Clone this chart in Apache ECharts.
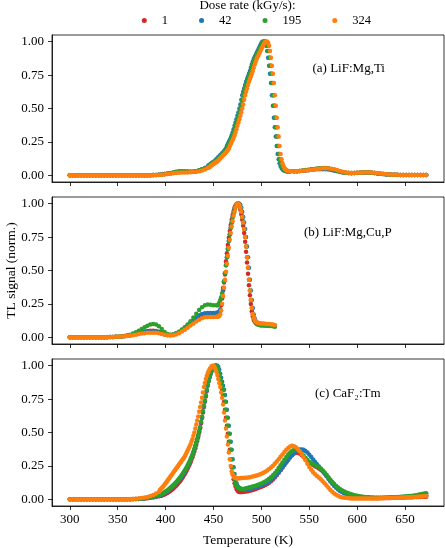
<!DOCTYPE html>
<html><head><meta charset="utf-8">
<script src="https://cdn.jsdelivr.net/npm/echarts@6.0.0/dist/echarts.min.js"></script>
<style>html,body{margin:0;padding:0;background:#fff}#c{width:445px;height:548px}</style>
</head><body><div id="c"></div>
<script>
const doseLabels = ['1','42','195','324'];
const colors = ['#d62728','#1f77b4','#2ca02c','#ff7f0e'];
const xTicks = [300,350,400,450,500,550,600,650];
const yTicks = [0,0.25,0.5,0.75,1];
const panelLabels = ['(a) LiF:Mg,Ti','(b) LiF:Mg,Cu,P','(c) CaF\u2082:Tm'];
const yTitle = 'TL signal (norm.)';
const xTitle = 'Temperature (K)';
const legendTitle = 'Dose rate (kGy/s):';

// ---------- Panel (a) LiF:Mg,Ti ----------
const Ta = [300,303,306,309,312,315,318,321,324,327,330,333,336,339,342,345,348,351,354,357,360,363,366,369,372,375,378,381,384,387,390,393,396,399,402,405,408,411,414,417,420,423,426,429,432,435,438,441,444,
445,446,447,448,449,450,451,452,453,454,455,456,457,458,459,460,461,462,463,464,465,466,467,468,469,470,471,472,473,474,475,476,477,478,479,480,481,482,483,484,485,486,487,488,489,490,491,492,493,494,495,496,497,498,499,500,501,502,503,504,505,506,507,508,509,510,511,512,513,514,515,516,517,518,519,520,521,522,523,524,525,526,527,528,529,530,
534,537,540,543,546,549,552,555,558,561,564,567,570,573,576,579,582,585,588,591,594,597,600,603,606,609,612,615,618,621,624,627,630,633,636,639,642,645,648,651,654,657,660,663,666,669,672];
const aRed = [0,0,0,0,0,0,0,0,0,0,0,0,0,0,0,0,0,0,0,0,0,0,0,0,0,0,0,0,
0.001,0.002,0.003,0.005,0.007,0.009,0.012,0.016,0.02,0.024,0.027,0.028,0.027,0.026,0.026,0.027,0.03,0.036,0.044,0.05,0.06,
0.063,0.068,0.075,0.08,0.085,0.09,0.095,0.1,0.105,0.11,
0.12,0.125,0.135,0.14,0.15,0.155,0.165,0.17,0.18,0.19,
0.2,0.22,0.235,0.25,0.265,0.28,0.3,0.32,0.345,0.37,
0.395,0.42,0.445,0.47,0.5,0.53,0.565,0.6,0.625,0.65,
0.675,0.7,0.72,0.74,0.76,0.78,0.805,0.83,0.85,0.87,
0.885,0.9,0.915,0.93,0.945,0.96,0.975,0.99,1,1,
1,0.99,0.97,0.93,0.88,0.82,0.76,0.69,0.6,0.52,
0.43,0.36,0.29,0.22,0.16,0.12,0.09,0.07,0.055,0.045,
0.04,0.035,0.032,0.03,0.03,0.03,
0.03,0.031,0.033,0.035,0.037,0.04,0.043,0.046,0.049,0.051,0.052,0.052,0.05,0.046,0.04,0.034,0.028,0.023,0.02,0.018,
0.017,0.018,0.019,0.02,0.021,0.021,0.021,0.02,0.018,0.015,0.012,0.01,0.008,0.006,0.005,0.004,0.004,0.003,0.003,0.003,
0.003,0.003,0.003,0.003,0.003,0.003,0.003];
const aBlue = [0,0,0,0,0,0,0,0,0,0,0,0,0,0,0,0,0,0,0,0,0,0,0,0,0,0,0,0,
0.001,0.002,0.003,0.005,0.007,0.009,0.012,0.015,0.019,0.023,0.026,0.027,0.027,0.026,0.026,0.027,0.03,0.036,0.044,0.054,0.068,
0.075,0.08,0.085,0.09,0.095,0.1,0.105,0.11,0.12,0.125,
0.135,0.14,0.15,0.155,0.165,0.17,0.18,0.19,0.2,0.22,
0.235,0.25,0.265,0.28,0.3,0.32,0.345,0.37,0.395,0.42,
0.445,0.47,0.5,0.53,0.565,0.6,0.625,0.65,0.675,0.7,
0.72,0.74,0.76,0.78,0.805,0.83,0.85,0.87,0.885,0.9,
0.915,0.93,0.945,0.96,0.975,0.99,1,1,1,0.99,
0.97,0.93,0.88,0.82,0.76,0.69,0.6,0.52,0.43,0.36,
0.29,0.22,0.16,0.12,0.09,0.07,0.055,0.045,0.04,0.035,
0.032,0.03,0.03,0.03,0.03,0.03,
0.03,0.031,0.032,0.034,0.036,0.038,0.041,0.043,0.045,0.046,0.046,0.045,0.043,0.04,0.035,0.03,0.025,0.021,0.018,0.017,
0.016,0.017,0.018,0.019,0.02,0.02,0.02,0.019,0.017,0.014,0.011,0.009,0.007,0.006,0.005,0.004,0.003,0.003,0.003,0.003,
0.003,0.003,0.003,0.003,0.003,0.003,0.003];
const aGreen = [0,0,0,0,0,0,0,0,0,0,0,0,0,0,0,0,0,0,0,0,0,0,0,0,0,0,0,0,
0.001,0.002,0.003,0.005,0.007,0.01,0.013,0.017,0.022,0.027,0.03,0.031,0.03,0.028,0.027,0.028,0.031,0.037,0.045,0.05,0.063,
0.068,0.075,0.08,0.085,0.09,0.095,0.1,0.105,0.11,0.12,
0.125,0.135,0.14,0.15,0.155,0.165,0.17,0.18,0.19,0.2,
0.22,0.235,0.25,0.265,0.28,0.3,0.32,0.345,0.37,0.395,
0.42,0.445,0.47,0.5,0.53,0.565,0.6,0.625,0.65,0.675,
0.7,0.72,0.74,0.76,0.78,0.805,0.83,0.85,0.87,0.885,
0.9,0.915,0.93,0.945,0.96,0.975,0.99,1,1,1,
0.99,0.97,0.93,0.88,0.82,0.76,0.69,0.6,0.52,0.43,
0.36,0.29,0.22,0.16,0.12,0.09,0.07,0.055,0.045,0.04,
0.035,0.032,0.03,0.03,0.03,0.03,
0.03,0.031,0.033,0.036,0.039,0.042,0.045,0.048,0.051,0.053,0.054,0.054,0.052,0.047,0.041,0.034,0.028,0.023,0.02,0.018,
0.017,0.018,0.019,0.02,0.021,0.021,0.021,0.02,0.018,0.015,0.012,0.01,0.008,0.006,0.005,0.004,0.004,0.003,0.003,0.003,
0.003,0.003,0.003,0.003,0.003,0.003,0.003];
const aOrange = [0,0,0,0,0,0,0,0,0,0,0,0,0,0,0,0,0,0,0,0,0,0,0,0,0,0,0,0,
0.001,0.001,0.002,0.003,0.005,0.007,0.009,0.012,0.015,0.018,0.02,0.022,0.022,0.022,0.023,0.024,0.026,0.03,0.036,0.044,0.054,
0.058,0.063,0.068,0.075,0.08,0.085,0.09,0.095,0.1,0.105,
0.11,0.12,0.125,0.135,0.14,0.15,0.155,0.165,0.17,0.18,
0.19,0.2,0.22,0.235,0.25,0.265,0.28,0.3,0.32,0.345,
0.37,0.395,0.42,0.445,0.47,0.5,0.53,0.565,0.6,0.625,
0.65,0.675,0.7,0.72,0.74,0.76,0.78,0.805,0.83,0.85,
0.87,0.885,0.9,0.915,0.93,0.945,0.96,0.975,0.99,1,
1,1,0.99,0.97,0.93,0.88,0.82,0.76,0.69,0.6,
0.52,0.43,0.36,0.29,0.22,0.16,0.12,0.09,0.07,0.055,
0.045,0.04,0.035,0.032,0.03,0.03,
0.03,0.03,0.032,0.034,0.036,0.038,0.041,0.044,0.047,0.05,0.052,0.053,0.053,0.05,0.045,0.039,0.032,0.026,0.022,0.019,
0.018,0.018,0.019,0.02,0.021,0.022,0.022,0.021,0.02,0.017,0.014,0.011,0.009,0.007,0.005,0.004,0.004,0.003,0.003,0.003,
0.003,0.003,0.003,0.003,0.003,0.003,0.003];

// ---------- Panel (b) LiF:Mg,Cu,P ----------
const Tb = [300,303,306,309,312,315,318,321,324,327,330,333,336,339,342,345,348,351,354,357,360,363,366,369,372,375,378,381,384,387,390,393,396,399,402,405,408,411,414,417,420,423,426,429,432,435,438,441,444,447,450,453,
454,455,456,457,458,459,460,461,462,463,464,465,466,467,468,469,470,471,472,473,474,475,476,477,478,479,480,481,482,483,484,485,486,487,488,489,490,491,492,493,494,495,496,497,498,499,500,
502,504,506,508,510,512,514];
const bRed = [0,0,0,0,0,0,0,0,0,0,0,0,
0.001,0.001,0.002,0.003,0.004,0.005,0.007,0.009,
0.012,0.016,0.021,0.027,0.033,0.039,0.044,0.048,0.05,0.05,
0.048,0.042,0.033,0.024,0.018,0.017,0.02,0.027,0.037,0.05,
0.065,0.082,0.1,0.12,0.138,0.152,0.16,0.165,0.166,0.166,
0.166,0.168,
0.17,0.17,0.18,0.2,0.24,0.29,0.35,0.41,0.47,0.57,
0.63,0.69,0.745,0.795,0.84,0.88,0.915,0.945,0.97,0.985,
0.995,1,1,0.98,0.955,0.92,0.88,0.835,0.78,0.715,
0.64,0.56,0.475,0.39,0.315,0.25,0.195,0.155,0.13,0.118,
0.11,0.105,0.102,0.1,0.099,0.098,0.097,
0.096,0.095,0.094,0.093,0.091,0.089,0.087];
const bBlue = [0,0,0,0,0,0,0,0,0,0,0,0,
0.001,0.001,0.002,0.003,0.004,0.005,0.006,0.008,
0.011,0.015,0.019,0.024,0.03,0.035,0.04,0.043,0.045,0.045,
0.043,0.038,0.03,0.022,0.017,0.017,0.021,0.029,0.04,0.055,
0.072,0.09,0.11,0.13,0.15,0.165,0.175,0.18,0.182,0.182,
0.182,0.183,
0.184,0.185,0.19,0.21,0.25,0.3,0.36,0.42,0.48,0.54,
0.6,0.66,0.72,0.77,0.82,0.86,0.9,0.93,0.96,0.98,
0.99,1,1,1,0.99,0.97,0.94,0.9,0.86,0.81,
0.75,0.68,0.6,0.52,0.43,0.35,0.28,0.22,0.17,0.14,
0.12,0.11,0.102,0.098,0.096,0.095,0.094,
0.093,0.092,0.091,0.09,0.089,0.087,0.085];
const bGreen = [0,0,0,0,0,0,0,0,0,0,0,0,
0.001,0.002,0.002,0.003,0.004,0.005,0.007,0.01,
0.014,0.02,0.028,0.038,0.05,0.062,0.075,0.087,0.096,0.1,
0.096,0.083,0.062,0.04,0.025,0.02,0.022,0.03,0.042,0.058,
0.075,0.095,0.12,0.148,0.177,0.205,0.225,0.24,0.245,0.243,
0.24,0.24,
0.24,0.245,0.26,0.28,0.3,0.33,0.37,0.42,0.48,0.54,
0.6,0.66,0.72,0.77,0.82,0.86,0.9,0.93,0.96,0.98,
0.99,1,1,0.99,0.97,0.94,0.9,0.86,0.81,0.75,
0.68,0.6,0.52,0.43,0.35,0.28,0.22,0.17,0.14,0.12,
0.11,0.1,0.097,0.094,0.092,0.09,0.089,
0.088,0.087,0.086,0.085,0.084,0.082,0.08];
const bOrange = [0,0,0,0,0,0,0,0,0,0,0,0,
0.001,0.001,0.002,0.003,0.004,0.005,0.006,0.008,
0.01,0.013,0.016,0.02,0.024,0.028,0.031,0.034,0.035,0.035,
0.034,0.03,0.025,0.019,0.015,0.014,0.016,0.022,0.031,0.043,
0.057,0.072,0.088,0.104,0.118,0.132,0.143,0.15,0.152,0.152,
0.152,0.153,
0.154,0.155,0.16,0.17,0.2,0.25,0.31,0.37,0.43,0.49,
0.55,0.61,0.67,0.73,0.78,0.83,0.87,0.91,0.94,0.97,
0.99,1,1,0.99,0.97,0.94,0.9,0.86,0.81,0.75,
0.68,0.6,0.52,0.43,0.35,0.28,0.22,0.175,0.148,0.13,
0.12,0.113,0.109,0.107,0.106,0.105,0.104,
0.103,0.102,0.1,0.099,0.097,0.095,0.093];

// ---------- Panel (c) CaF2:Tm ----------
const Tc = [300,303,306,309,312,315,318,321,324,327,330,333,336,339,342,345,348,351,354,357,360,363,366,369,372,375,378,381,384,387,390,393,
394,395,396,397,398,399,400,401,402,403,404,405,406,407,408,409,410,411,412,413,414,415,416,417,418,419,420,421,422,423,424,425,426,427,428,429,430,431,432,433,434,435,436,437,438,439,440,441,442,443,444,445,446,447,448,449,450,451,452,453,454,455,456,457,458,459,460,461,462,463,464,465,466,467,468,469,470,471,472,473,474,475,476,477,478,479,480,
482,484,486,488,490,492,494,496,498,500,502,504,506,508,510,512,514,516,518,520,522,524,526,528,530,532,534,536,538,540,542,544,546,548,550,552,554,556,558,560,562,564,566,568,570,572,574,576,578,580,582,584,586,588,590,592,594,596,598,600,602,604,606,608,610,612,614,616,618,620,622,624,626,628,630,632,634,636,638,640,642,644,646,648,650,652,654,656,658,660,662,664,666,668,670,672];
const cRed = [0,0,0,0,0,0,0,0,0,0,0,0,0,0,0,0,0,0,0,0,
0.001,0.001,0.001,0.002,0.003,0.004,0.006,0.008,0.011,0.014,0.018,0.023,
0.025,0.027,0.029,0.032,0.035,0.038,0.042,0.046,0.05,0.054,
0.059,0.064,0.069,0.075,0.081,0.088,0.095,0.102,0.11,0.118,
0.127,0.136,0.146,0.156,0.167,0.178,0.19,0.203,0.216,0.23,
0.245,0.261,0.278,0.296,0.315,0.336,0.358,0.382,0.408,0.436,
0.466,0.498,0.53,0.568,0.608,0.65,0.69,0.73,0.77,0.81,
0.85,0.885,0.915,0.94,0.96,0.977,0.99,0.997,1,0.99,
0.97,0.94,0.91,0.88,0.85,0.82,0.78,0.73,0.67,0.61,
0.55,0.49,0.43,0.37,0.3,0.24,0.19,0.15,0.12,0.095,
0.078,0.066,0.059,0.055,0.054,0.054,0.055,
0.056,0.058,0.061,0.064,0.068,0.072,0.077,0.082,0.088,0.094,
0.1,0.107,0.115,0.124,0.135,0.148,0.163,0.18,0.198,0.218,
0.238,0.258,0.278,0.298,0.316,0.331,0.342,0.348,0.348,0.342,
0.332,0.318,0.303,0.289,0.276,0.265,0.256,0.248,0.24,0.231,
0.221,0.209,0.194,0.177,0.159,0.141,0.124,0.108,0.094,0.081,
0.07,0.06,0.052,0.045,0.039,0.034,0.03,0.026,0.023,0.02,
0.018,0.016,0.014,0.013,0.012,0.011,0.01,0.01,0.009,0.009,
0.009,0.009,0.009,0.009,0.01,0.01,0.01,0.011,0.011,0.012,
0.012,0.013,0.013,0.014,0.014,0.015,0.015,0.016,0.016,0.017,
0.017,0.018,0.018,0.019,0.019,0.02];
const cBlue = [0,0,0,0,0,0,0,0,0,0,0,0,0,0,0,0,0,0,0,0,
0.001,0.001,0.002,0.002,0.003,0.005,0.007,0.01,0.013,0.017,0.022,0.028,
0.03,0.033,0.036,0.039,0.043,0.047,0.052,0.056,0.061,0.066,
0.072,0.078,0.084,0.09,0.097,0.104,0.111,0.119,0.127,0.135,
0.144,0.153,0.163,0.173,0.184,0.195,0.207,0.22,0.233,0.247,
0.262,0.278,0.295,0.313,0.332,0.352,0.374,0.398,0.423,0.45,
0.478,0.508,0.538,0.575,0.615,0.655,0.695,0.735,0.775,0.815,
0.855,0.885,0.915,0.94,0.96,0.975,0.987,0.995,0.999,1,
1,0.99,0.97,0.94,0.91,0.88,0.85,0.82,0.78,0.73,
0.67,0.61,0.55,0.49,0.43,0.37,0.3,0.24,0.19,0.15,
0.12,0.1,0.09,0.085,0.078,0.075,0.073,
0.072,0.073,0.075,0.078,0.081,0.085,0.089,0.094,0.099,0.104,
0.11,0.117,0.125,0.134,0.145,0.157,0.17,0.185,0.201,0.219,
0.238,0.257,0.276,0.295,0.313,0.33,0.345,0.358,0.367,0.372,
0.373,0.37,0.362,0.35,0.334,0.316,0.298,0.28,0.263,0.246,
0.229,0.211,0.192,0.172,0.152,0.133,0.116,0.1,0.086,0.074,
0.063,0.054,0.047,0.041,0.036,0.031,0.027,0.024,0.021,0.019,
0.017,0.015,0.014,0.013,0.012,0.011,0.01,0.01,0.01,0.01,
0.01,0.01,0.01,0.011,0.011,0.012,0.012,0.013,0.013,0.014,
0.015,0.016,0.017,0.018,0.019,0.02,0.021,0.022,0.023,0.024,
0.025,0.026,0.027,0.028,0.029,0.03];
const cGreen = [0,0,0,0,0,0,0,0,0,0,0,0,0,0,0,0,0,0,0,0,
0.001,0.001,0.002,0.003,0.004,0.006,0.008,0.011,0.015,0.019,0.025,0.032,
0.034,0.037,0.04,0.044,0.048,0.053,0.058,0.063,0.068,0.074,
0.08,0.086,0.092,0.099,0.106,0.113,0.12,0.128,0.136,0.144,
0.153,0.162,0.172,0.182,0.193,0.204,0.216,0.228,0.24,0.254,
0.268,0.283,0.299,0.316,0.334,0.354,0.376,0.4,0.425,0.452,
0.48,0.51,0.54,0.58,0.62,0.66,0.7,0.74,0.78,0.82,
0.86,0.89,0.92,0.945,0.965,0.98,0.99,0.997,1,1,
0.99,0.97,0.94,0.91,0.88,0.85,0.82,0.78,0.73,0.67,
0.61,0.55,0.49,0.43,0.37,0.3,0.24,0.19,0.15,0.12,
0.1,0.09,0.085,0.082,0.08,0.079,0.078,
0.079,0.082,0.086,0.09,0.094,0.098,0.102,0.107,0.112,0.118,
0.125,0.133,0.142,0.153,0.166,0.18,0.196,0.214,0.234,0.255,
0.276,0.297,0.317,0.335,0.35,0.362,0.37,0.372,0.368,0.358,
0.344,0.327,0.31,0.294,0.28,0.27,0.262,0.255,0.247,0.238,
0.228,0.216,0.2,0.183,0.165,0.147,0.13,0.114,0.1,0.088,
0.077,0.068,0.06,0.053,0.047,0.042,0.037,0.033,0.029,0.026,
0.023,0.021,0.019,0.017,0.016,0.015,0.014,0.013,0.012,0.012,
0.011,0.011,0.011,0.012,0.012,0.013,0.013,0.014,0.015,0.016,
0.017,0.018,0.019,0.02,0.021,0.022,0.024,0.025,0.027,0.029,
0.031,0.034,0.037,0.04,0.043,0.046];
const cOrange = [0,0,0,0,0,0,0,0,0,0,0,0,0,0,0,0,0,0,0,0,
0.001,0.002,0.003,0.004,0.006,0.009,0.013,0.018,0.025,0.033,0.043,0.055,
0.07,0.077,0.085,0.093,0.102,0.111,0.12,0.13,0.14,0.15,
0.16,0.17,0.18,0.19,0.2,0.21,0.22,0.23,0.24,0.25,
0.26,0.27,0.28,0.29,0.3,0.31,0.32,0.335,0.35,0.365,
0.38,0.395,0.41,0.43,0.45,0.475,0.5,0.53,0.56,0.59,
0.62,0.655,0.69,0.725,0.76,0.8,0.84,0.87,0.9,0.925,
0.945,0.96,0.975,0.985,0.995,1,1,0.99,0.975,0.955,
0.93,0.9,0.87,0.84,0.8,0.76,0.71,0.65,0.59,0.53,
0.47,0.41,0.35,0.3,0.25,0.21,0.185,0.17,0.163,0.16,
0.158,0.158,0.158,0.158,0.159,0.16,0.16,
0.161,0.162,0.164,0.166,0.169,0.172,0.176,0.18,0.185,0.191,
0.198,0.206,0.215,0.226,0.238,0.252,0.267,0.283,0.3,0.318,
0.336,0.354,0.37,0.384,0.395,0.4,0.398,0.39,0.377,0.36,
0.34,0.317,0.292,0.266,0.242,0.221,0.203,0.188,0.175,0.163,
0.15,0.136,0.12,0.103,0.086,0.07,0.056,0.044,0.034,0.026,
0.02,0.016,0.013,0.011,0.009,0.008,0.007,0.007,0.006,0.006,
0.006,0.006,0.006,0.006,0.006,0.006,0.006,0.007,0.007,0.007,
0.007,0.008,0.008,0.008,0.009,0.009,0.01,0.01,0.011,0.011,
0.012,0.012,0.013,0.013,0.014,0.015,0.015,0.016,0.017,0.018,
0.019,0.02,0.021,0.022,0.023,0.024];

const panels = [
  {T: Ta, series: [aRed, aBlue, aGreen, aOrange]},
  {T: Tb, series: [bRed, bBlue, bGreen, bOrange]},
  {T: Tc, series: [cRed, cBlue, cGreen, cOrange]}
];

const FONT = '"Liberation Serif", "DejaVu Serif", serif';
const TXT = '#000';
const tops = [35, 197, 359];
const grid = tops.map(t => ({left: 52, top: t, width: 392, height: 147, show: true, borderColor: '#000', borderWidth: 0.8,
  backgroundColor: 'transparent', containLabel: false, outerBoundsMode: 'none'}));

const xAxis = tops.map((t, i) => ({
  type: 'value', gridIndex: i, min: 281.4, max: 690.6,
  splitLine: {show: false},
  axisLine: {show: true, onZero: false, lineStyle: {color: '#000', width: 0.8}},
  axisTick: {show: true, length: 4, customValues: xTicks, lineStyle: {color: '#000', width: 0.8}},
  axisLabel: {show: i === 2, customValues: xTicks, margin: 7, color: TXT, fontFamily: FONT, fontSize: 13, formatter: v => String(v)},
  name: i === 2 ? xTitle : '', nameLocation: 'middle', nameGap: 27,
  nameTextStyle: {color: TXT, fontFamily: FONT, fontSize: 13.5}
}));
const yAxis = tops.map((t, i) => ({
  type: 'value', gridIndex: i, min: -0.05, max: 1.05,
  splitLine: {show: false},
  axisLine: {show: true, onZero: false, lineStyle: {color: '#000', width: 0.8}},
  axisTick: {show: true, length: 4, customValues: yTicks, lineStyle: {color: '#000', width: 0.8}},
  axisLabel: {customValues: yTicks, margin: 8, color: TXT, fontFamily: FONT, fontSize: 13, formatter: v => v.toFixed(2)}
}));

const series = [];
panels.forEach((p, pi) => {
  p.series.forEach((vals, di) => {
    series.push({
      type: 'scatter', name: doseLabels[di], xAxisIndex: pi, yAxisIndex: pi,
      data: p.T.map((t, k) => [t, vals[k]]),
      symbol: 'circle', symbolSize: 4.5, z: 2 + di, silent: true,
      itemStyle: {color: colors[di], opacity: 1},
      emphasis: {disabled: true}
    });
  });
});

const labelPos = [[312.5, 69], [304, 232.5], [315, 394]];
const graphic = [
  {type: 'text', x: 247.5, y: 6, style: {text: legendTitle, font: '13px "Liberation Serif"', fill: TXT, textAlign: 'center', align: 'center', textVerticalAlign: 'middle', verticalAlign: 'middle'}},
  {type: 'text', x: 11, y: 270.5, rotation: Math.PI / 2, style: {text: yTitle, font: '13.5px "Liberation Serif"', fill: TXT, textAlign: 'center', align: 'center', textVerticalAlign: 'middle', verticalAlign: 'middle'}}
].concat(panelLabels.map((s, i) => ({type: 'text', x: labelPos[i][0], y: labelPos[i][1],
    style: {text: s, font: '13px "Liberation Serif"', fill: TXT, textAlign: 'left', align: 'left', textVerticalAlign: 'middle', verticalAlign: 'middle'}})));

const chart = echarts.init(document.getElementById('c'), null, {renderer: 'canvas'});
chart.setOption({
  animation: false,
  backgroundColor: '#fff',
  grid, xAxis, yAxis, series, graphic,
  legend: {
    data: doseLabels, left: 141.8, top: 14, padding: 0, icon: 'circle', itemWidth: 5, itemHeight: 5, itemGap: 31,
    selectedMode: false,
    textStyle: {color: TXT, fontFamily: FONT, fontSize: 12.5, padding: [0, 0, 0, 10]}
  }
});
</script></body></html>
